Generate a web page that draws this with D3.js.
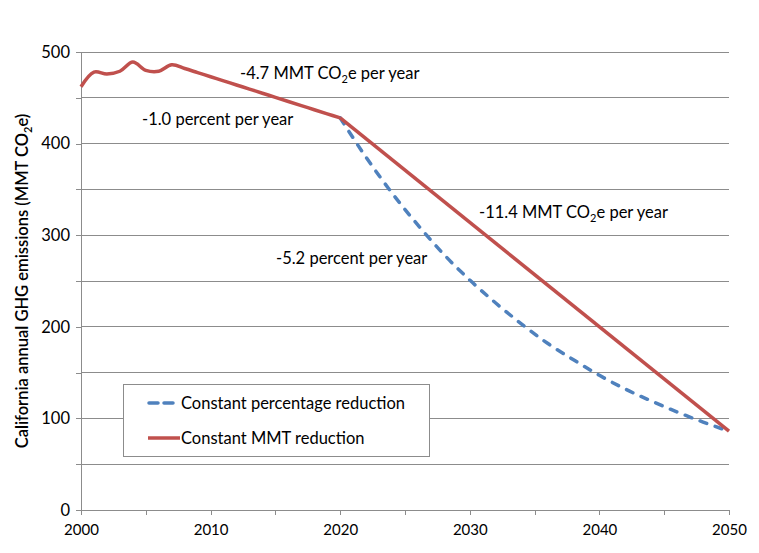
<!DOCTYPE html>
<html>
<head>
<meta charset="utf-8">
<script src="https://cdn.jsdelivr.net/npm/d3@7"></script>
<style>
	body { margin: 0; background: #fff; }
	text { font-family: Lato, "Open Sans", sans-serif; fill: #000; }
</style>
</head>
<body>
<div id="chart"></div>
<script>
// Data
//---------------------------------------------------------------------------
var histYears = [2000, 2001, 2002, 2003, 2004, 2005, 2006, 2007, 2008, 2009, 2010,
	2011, 2012, 2013, 2014, 2015, 2016, 2017, 2018, 2019, 2020];
var histValues = [462, 478, 476, 479, 489, 480, 479, 486, 482, 477.5, 473,
	468.5, 464, 459.5, 455, 450.5, 446, 441.5, 437, 432.5, 428];

// constant MMT reduction (straight line)
var mmtYears = [2020, 2050];
var mmtValues = [428, 86];

// constant percentage reduction
var pctYears = [2020, 2022, 2024, 2026, 2028, 2030, 2032, 2034, 2036, 2038, 2040,
	2042, 2044, 2046, 2048, 2050];
var pctValues = [428, 385, 346, 311, 279, 251, 226, 203, 182, 164, 147,
	132, 119, 107, 96, 86];

var yTicks = [0, 100, 200, 300, 400, 500];
var yGrid = [50, 100, 150, 200, 250, 300, 350, 400, 450, 500];
var xTicks = [2000, 2010, 2020, 2030, 2040, 2050];
var xMinor = [2005, 2015, 2025, 2035, 2045];

var legendLabels = ["Constant percentage reduction", "Constant MMT reduction"];

// Chart
//---------------------------------------------------------------------------
var W = 759, H = 553;
var mLeft = 81, mRight = 729, mTop = 52, mBottom = 510;
var red = "#C0504D", blue = "#4F81BD", gridCol = "#8c8c8c";
var fs = "16.5px";

var svg = d3.select("#chart").append("svg")
	.attr("width", W)
	.attr("height", H);

var x = d3.scaleLinear().domain([2000, 2050]).range([mLeft, mRight]);
var y = d3.scaleLinear().domain([0, 500]).range([mBottom, mTop]);

// gridlines
svg.append("g").selectAll("line")
	.data(yGrid).enter()
	.append("line")
	.attr("x1", mLeft).attr("x2", mRight)
	.attr("y1", function(d) { return y(d); })
	.attr("y2", function(d) { return y(d); })
	.attr("stroke", gridCol)
	.attr("stroke-width", 1)
	.attr("shape-rendering", "crispEdges");

// y axis
var yAxis = svg.append("g")
	.attr("transform", "translate(" + mLeft + ",0)")
	.call(d3.axisLeft(y).tickValues(yGrid.concat([0])).tickSize(5)
		.tickFormat(function(d) { return yTicks.indexOf(d) >= 0 ? d : ""; }));
yAxis.selectAll("text").attr("font-size", fs).attr("dx", "-3");

// x axis
var xAxis = svg.append("g")
	.attr("transform", "translate(0," + mBottom + ")")
	.call(d3.axisBottom(x).tickValues(xTicks.concat(xMinor)).tickSize(5)
		.tickFormat(function(d) { return xTicks.indexOf(d) >= 0 ? d : ""; }));
xAxis.selectAll("text").attr("font-size", "15px").attr("dy", "1.1em");

[yAxis, xAxis].forEach(function(a) {
	a.select(".domain").attr("stroke", gridCol).attr("shape-rendering", "crispEdges");
	a.selectAll(".tick line").attr("stroke", gridCol).attr("shape-rendering", "crispEdges");
	a.selectAll("text").style("font-family", "Lato, 'Open Sans', sans-serif");
});

// lines
var line = d3.line()
	.x(function(d) { return x(d[0]); })
	.y(function(d) { return y(d[1]); });

var hist = d3.zip(histYears, histValues);
var pct = d3.zip(pctYears, pctValues);
var mmt = d3.zip(mmtYears, mmtValues);

svg.append("path")
	.attr("d", line.curve(d3.curveMonotoneX)(pct))
	.attr("fill", "none")
	.attr("stroke", blue)
	.attr("stroke-width", 3.5)
	.attr("stroke-linecap", "round")
	.attr("stroke-dasharray", "7,9");

svg.append("path")
	.attr("d", line.curve(d3.curveCatmullRom)(hist))
	.attr("fill", "none")
	.attr("stroke", red)
	.attr("stroke-width", 3.5)
	.attr("stroke-linejoin", "round");

svg.append("path")
	.attr("d", line.curve(d3.curveLinear)(mmt))
	.attr("fill", "none")
	.attr("stroke", red)
	.attr("stroke-width", 3.5)
	.attr("stroke-linejoin", "round");

// annotations
function co2Label(px, py, pre, post) {
	var t = svg.append("text").attr("x", px).attr("y", py).attr("font-size", fs);
	t.append("tspan").text(pre);
	t.append("tspan").text("2").attr("font-size", "11px").attr("dy", "4");
	t.append("tspan").text(post).attr("dy", "-4");
	return t;
}
co2Label(240, 79, "-4.7 MMT CO", "e per year");
co2Label(479, 218, "-11.4 MMT CO", "e per year");
svg.append("text").attr("x", 142).attr("y", 125).attr("font-size", fs)
	.text("-1.0 percent per year");
svg.append("text").attr("x", 276).attr("y", 264).attr("font-size", fs)
	.text("-5.2 percent per year");

// y title
var yt = svg.append("text")
	.attr("transform", "translate(28,281) rotate(-90)")
	.attr("text-anchor", "middle")
	.attr("font-size", fs)
	.attr("font-weight", "600");
yt.append("tspan").text("California annual GHG emissions (MMT CO");
yt.append("tspan").text("2").attr("font-size", "11px").attr("dy", "4");
yt.append("tspan").text("e)").attr("dy", "-4");

// legend
var lg = svg.append("g");
lg.append("rect")
	.attr("x", 123.5).attr("y", 384.5)
	.attr("width", 306).attr("height", 72)
	.attr("fill", "#fff")
	.attr("stroke", gridCol);
var lrows = lg.selectAll("g.row")
	.data(legendLabels).enter()
	.append("g")
	.attr("transform", function(d, i) { return "translate(0," + (i === 0 ? 403 : 438) + ")"; });
lrows.append("line")
	.attr("x1", function(d, i) { return i === 0 ? 149 : 148; })
	.attr("x2", function(d, i) { return i === 0 ? 177 : 180; })
	.attr("stroke", function(d, i) { return i === 0 ? blue : red; })
	.attr("stroke-width", 3.5)
	.attr("stroke-linecap", function(d, i) { return i === 0 ? "round" : "butt"; })
	.attr("stroke-dasharray", function(d, i) { return i === 0 ? "9,6" : null; });
lrows.append("text")
	.attr("x", 181).attr("y", 5.5)
	.attr("font-size", fs)
	.text(function(d) { return d; });
</script>
</body>
</html>
